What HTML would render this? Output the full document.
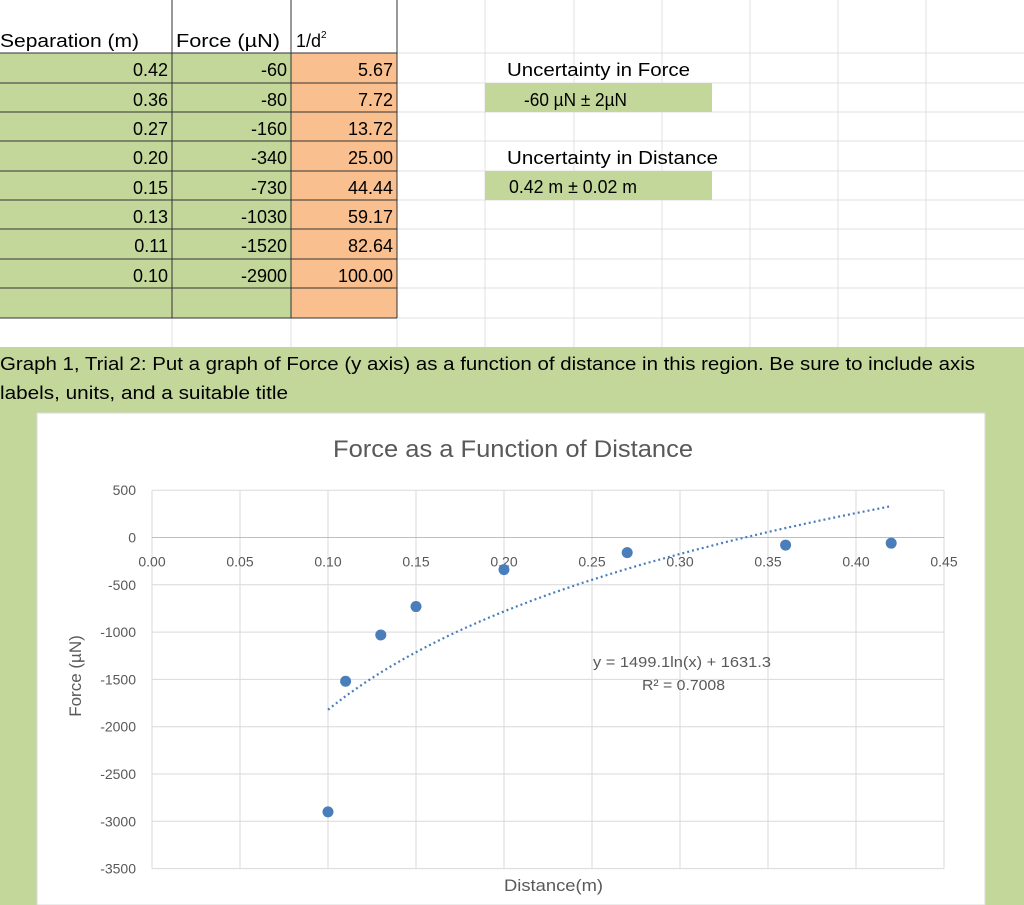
<!DOCTYPE html>
<html><head><meta charset="utf-8"><style>
html,body{margin:0;padding:0;background:#fff;width:1024px;height:905px;overflow:hidden}
svg{display:block;font-family:"Liberation Sans",sans-serif}
</style></head><body>
<svg id="s" width="1024" height="905" viewBox="0 0 1024 905">
<g id="sheet"></g>
<g id="chart"></g>
</svg>
<script>
const seps=["0.42","0.36","0.27","0.20","0.15","0.13","0.11","0.10"];
const forcesTxt=["-60","-80","-160","-340","-730","-1030","-1520","-2900"];
const invd=["5.67","7.72","13.72","25.00","44.44","59.17","82.64","100.00"];
const xValues=[0.42,0.36,0.27,0.20,0.15,0.13,0.11,0.10];
const yValues=[-60,-80,-160,-340,-730,-1030,-1520,-2900];
const xTicks=[0,0.05,0.10,0.15,0.20,0.25,0.30,0.35,0.40,0.45];
const yTicks=[500,0,-500,-1000,-1500,-2000,-2500,-3000,-3500];
const trendA=1499.1, trendB=1631.3;

const NS="http://www.w3.org/2000/svg";
function mk(p,tag,attrs,txt){const e=document.createElementNS(NS,tag);for(const k in attrs)e.setAttribute(k,attrs[k]);if(txt!==undefined)e.textContent=txt;p.appendChild(e);return e;}
const sheet=document.getElementById('sheet');
const chart=document.getElementById('chart');
const GREEN="#c4d79b", ORANGE="#fabf8f";
const cols=[172,291,397,485,574,662,750,838,926];
const rows=[53,83,112,141,171,200,229,259,288,318];
for(const c of cols){const l=mk(sheet,'line',{x1:c,y1:0,x2:c,y2:347,stroke:'#e1e1e1'});}
for(const r of rows){const l=mk(sheet,'line',{x1:0,y1:r,x2:1024,y2:r,stroke:'#e1e1e1'});}
let r0=mk(sheet,'rect',{x:0,y:53,width:291,height:265,fill:GREEN});

let r1=mk(sheet,'rect',{x:291,y:53,width:106,height:265,fill:ORANGE});

for(const r of rows){const l=mk(sheet,'line',{x1:0,y1:r,x2:397,y2:r,stroke:'#333','stroke-width':1});}
for(const c of [172,291,397]){const l=mk(sheet,'line',{x1:c,y1:0,x2:c,y2:318,stroke:'#333'});}
const hs={'font-size':18,fill:'#000'};
let t=mk(sheet,'text',Object.assign({x:0,y:47,textLength:139,lengthAdjust:'spacingAndGlyphs'},hs),'Separation (m)');
t=mk(sheet,'text',Object.assign({x:176,y:47,textLength:104,lengthAdjust:'spacingAndGlyphs'},hs),'Force (µN)');
t=mk(sheet,'text',Object.assign({x:296,y:47},hs),'1/d');
mk(t,'tspan',{dy:-9,'font-size':10},'2');
for(let i=0;i<seps.length;i++){
  const y=rows[i]+23;
  t=mk(sheet,'text',Object.assign({x:168,y:y,'text-anchor':'end'},hs),seps[i]);
  t=mk(sheet,'text',Object.assign({x:287,y:y,'text-anchor':'end'},hs),forcesTxt[i]);
  t=mk(sheet,'text',Object.assign({x:393,y:y,'text-anchor':'end'},hs),invd[i]);
}
let g=mk(sheet,'rect',{x:485,y:83,width:227,height:29,fill:GREEN});
g=mk(sheet,'rect',{x:485,y:171,width:227,height:29,fill:GREEN});
t=mk(sheet,'text',Object.assign({x:507,y:76,textLength:183,lengthAdjust:'spacingAndGlyphs'},hs),'Uncertainty in Force');
t=mk(sheet,'text',Object.assign({x:524,y:106,textLength:103,lengthAdjust:'spacingAndGlyphs'},hs),'-60 µN ± 2µN');
t=mk(sheet,'text',Object.assign({x:507,y:164,textLength:211,lengthAdjust:'spacingAndGlyphs'},hs),'Uncertainty in Distance');
t=mk(sheet,'text',Object.assign({x:509,y:193,textLength:128,lengthAdjust:'spacingAndGlyphs'},hs),'0.42 m  ± 0.02 m');
g=mk(sheet,'rect',{x:0,y:347,width:1024,height:558,fill:GREEN});
t=mk(sheet,'text',Object.assign({x:0,y:370,textLength:975,lengthAdjust:'spacingAndGlyphs'},hs),'Graph 1, Trial 2: Put a graph of Force (y axis) as a function of distance in this region.  Be sure to include axis');
t=mk(sheet,'text',Object.assign({x:0,y:399,textLength:288,lengthAdjust:'spacingAndGlyphs'},hs),'labels, units, and a suitable title');

g=mk(chart,'rect',{x:37,y:413,width:948,height:492,fill:'#fff',stroke:'#d9d9d9'});
const X0=152,XS=1760,Y0=537.5,YS=47.3/500;
const sx=v=>X0+v*XS, sy=v=>Y0-v*YS;
const xmin=xTicks[0],xmax=xTicks[xTicks.length-1],ymax=yTicks[0],ymin=yTicks[yTicks.length-1];
for(const v of xTicks){const l=mk(chart,'line',{x1:sx(v),y1:sy(ymax),x2:sx(v),y2:sy(ymin),stroke:'#d9d9d9'});}
for(const v of yTicks){const l=mk(chart,'line',{x1:sx(xmin),y1:sy(v),x2:sx(xmax),y2:sy(v),stroke:v===0?'#bfbfbf':'#d9d9d9'});}
const ts={'font-size':14,fill:'#595959'};
for(const v of xTicks){t=mk(chart,'text',Object.assign({x:sx(v),y:sy(0)+29,'text-anchor':'middle'},ts),v.toFixed(2));}
for(const v of yTicks){t=mk(chart,'text',Object.assign({x:136,y:sy(v)+5,'text-anchor':'end'},ts),String(v));}
t=mk(chart,'text',{x:333,y:457,'font-size':24,fill:'#595959',textLength:360,lengthAdjust:'spacingAndGlyphs'},'Force as a Function of Distance');
t=mk(chart,'text',{x:504,y:891,'font-size':17,fill:'#595959',textLength:99,lengthAdjust:'spacingAndGlyphs'},'Distance(m)');
t=mk(chart,'text',{x:0,y:0,'text-anchor':'middle','font-size':17,fill:'#595959',transform:'translate(81,676) rotate(-90)'},'Force (µN)');
const xa=Math.min(...xValues),xb=Math.max(...xValues);let d='';
for(let i=0;i<=60;i++){const x=xa+(xb-xa)*i/60;const y=trendA*Math.log(x)+trendB;d+=(i?'L':'M')+sx(x).toFixed(1)+','+sy(y).toFixed(1);}
const tl=mk(chart,'path',{d:d,fill:'none',stroke:'#4a7ebb','stroke-width':2.2,'stroke-dasharray':'2 3'});

for(let i=0;i<xValues.length;i++){const c=mk(chart,'circle',{cx:sx(xValues[i]),cy:sy(yValues[i]),r:5.5,fill:'#4a7ebb'});
}
t=mk(chart,'text',{x:593,y:667,'font-size':15,fill:'#595959',textLength:178,lengthAdjust:'spacingAndGlyphs'},'y = 1499.1ln(x) + 1631.3');
t=mk(chart,'text',{x:642,y:690,'font-size':15,fill:'#595959',textLength:83,lengthAdjust:'spacingAndGlyphs'},'R² = 0.7008');
</script>
</body></html>
